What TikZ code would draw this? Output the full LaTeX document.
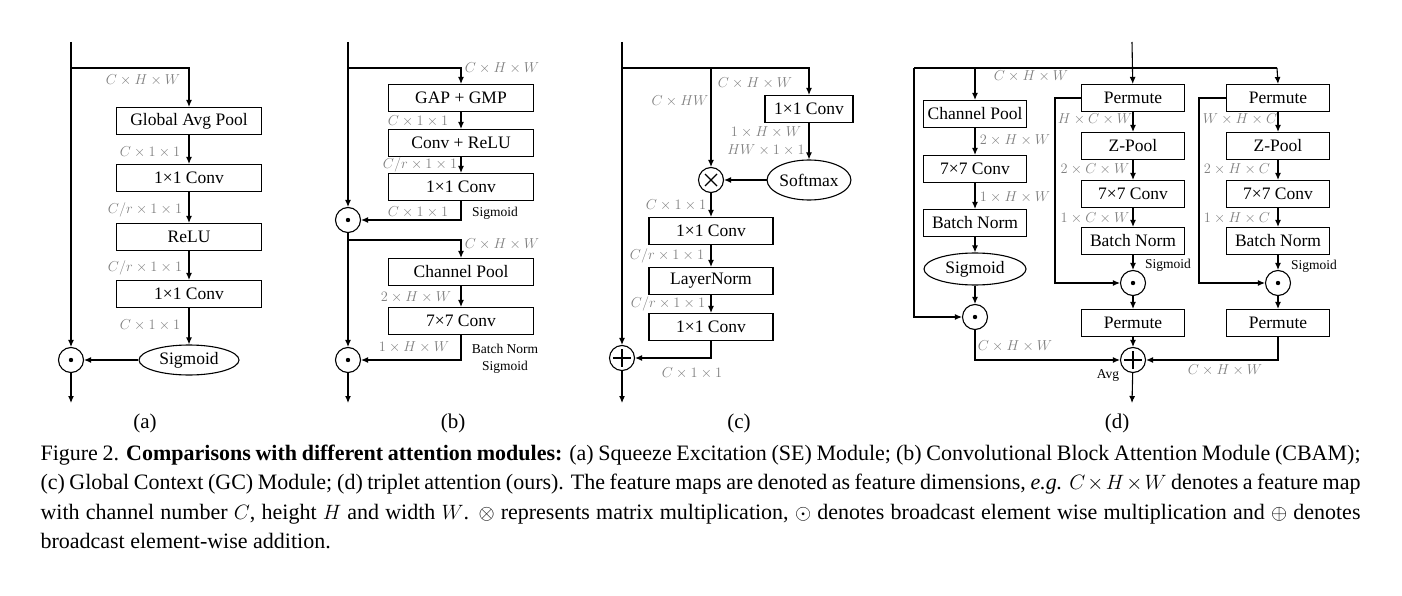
\documentclass[tikz,border=0pt]{standalone}
\usepackage{fontspec}
\setmainfont{Liberation Serif}
\usetikzlibrary{arrows.meta,shapes.geometric}
\begin{document}
\begin{tikzpicture}[x=1pt,y=-1pt,line width=1.1pt,
 arr/.style={-{Latex[length=7pt,width=6pt]}},
 box/.style={draw,minimum width=145pt,minimum height=27pt,inner sep=0pt,font=\fontsize{17.5}{17.5}\selectfont},
 sbox/.style={draw,minimum width=103pt,minimum height=27pt,inner sep=0pt,font=\fontsize{17.5}{17.5}\selectfont},
 ell/.style={draw,ellipse,minimum width=100pt,minimum height=30pt,inner sep=0pt,font=\fontsize{17.5}{17.5}\selectfont},
 lab/.style={text=gray,font=\fontsize{13.5}{13.5}\selectfont,inner sep=0pt},
 blab/.style={font=\fontsize{13.5}{13.5}\selectfont,inner sep=0pt},
 sublab/.style={font=\fontsize{21}{21}\selectfont},
 odot/.style={draw,circle,minimum size=25pt,inner sep=0pt,path picture={\fill (path picture bounding box.center) circle (2.2pt);}},
 otimes/.style={draw,circle,minimum size=25pt,inner sep=0pt,path picture={\draw ([shift={(-6,-6)}]path picture bounding box.center) -- ([shift={(6,6)}]path picture bounding box.center) ([shift={(-6,6)}]path picture bounding box.center) -- ([shift={(6,-6)}]path picture bounding box.center);}},
 oplus/.style={draw,circle,minimum size=25pt,inner sep=0pt,path picture={\draw ([shift={(-9,0)}]path picture bounding box.center) -- ([shift={(9,0)}]path picture bounding box.center) ([shift={(0,-9)}]path picture bounding box.center) -- ([shift={(0,9)}]path picture bounding box.center);}}]
\useasboundingbox (0,0) rectangle (1402,596);
% ---------- (a)
\coordinate (a0) at (71,42); \coordinate (aj) at (71,68); \coordinate (aout) at (71,403);
\node[box] (a1) at (189,121) {Global Avg Pool};
\node[box] (a2) at (189,178) {1×1 Conv};
\node[box] (a3) at (189,237) {ReLU};
\node[box] (a4) at (189,294) {1×1 Conv};
\node[ell] (as) at (189,360) {Sigmoid};
\node[odot] (ao) at (71,360) {};
\draw[arr] (a0) -- (ao);
\draw[arr] (aj) -| (a1.north);
\draw[arr] (a1) -- (a2); \draw[arr] (a2) -- (a3); \draw[arr] (a3) -- (a4); \draw[arr] (a4) -- (as);
\draw[arr] (as) -- (ao); \draw[arr] (ao) -- (aout);
\node[lab] at (143,80) {$C\times H\times W$};
\node[lab] at (150,152) {$C\times 1\times 1$};
\node[lab] at (145,210) {$C/r\times 1\times 1$};
\node[lab] at (145,268) {$C/r\times 1\times 1$};
\node[lab] at (150,325) {$C\times 1\times 1$};
\node[sublab] at (145,423) {(a)};
% ---------- (b)
\coordinate (b0) at (348,42); \coordinate (bj) at (348,68); \coordinate (bout) at (348,403);
\node[box] (b1) at (461,98) {GAP + GMP};
\node[box] (b2) at (461,143) {Conv + ReLU};
\node[box] (b3) at (461,187) {1×1 Conv};
\node[odot] (bo1) at (348,220) {};
\coordinate (bj2) at (348,240);
\node[box] (b4) at (461,272) {Channel Pool};
\node[box] (b5) at (461,321) {7×7 Conv};
\node[odot] (bo2) at (348,360) {};
\draw[arr] (b0) -- (bo1); \draw[arr] (bo1) -- (bo2); \draw[arr] (bo2) -- (bout);
\draw[arr] (bj) -| (b1.north);
\draw[arr] (b1) -- (b2); \draw[arr] (b2) -- (b3);
\draw[arr] (b3.south) |- (bo1);
\draw[arr] (bj2) -| (b4.north);
\draw[arr] (b4) -- (b5);
\draw[arr] (b5.south) |- (bo2);
\node[lab] at (502,68) {$C\times H\times W$};
\node[lab] at (418,121) {$C\times 1\times 1$};
\node[lab] at (420,165) {$C/r\times 1\times 1$};
\node[lab] at (418,212) {$C\times 1\times 1$};
\node[blab] at (495,213) {Sigmoid};
\node[lab] at (502,244) {$C\times H\times W$};
\node[lab] at (416,297) {$2\times H\times W$};
\node[lab] at (414,347) {$1\times H\times W$};
\node[blab] at (505,349) {Batch Norm};
\node[blab] at (505,367) {Sigmoid};
\node[sublab] at (453,423) {(b)};
% ---------- (c)
\coordinate (c0) at (622,42); \coordinate (cj) at (622,68); \coordinate (cm) at (711,68); \coordinate (cout) at (622,403);
\node[sbox,minimum width=88pt] (c1) at (809,109) {1×1 Conv};
\node[ell,minimum width=74pt,minimum height=40pt] (cs) at (809,180) {Softmax};
\node[otimes] (cx) at (711,180) {};
\node[box,minimum width=124pt] (c2) at (711,231) {1×1 Conv};
\node[box,minimum width=124pt] (c3) at (711,281) {LayerNorm};
\node[box,minimum width=124pt] (c4) at (711,327) {1×1 Conv};
\node[oplus] (cp) at (622,358) {};
\draw[arr] (c0) -- (cp); \draw[arr] (cp) -- (cout);
\draw[arr] (cj) -| (c1.north);
\draw[arr] (cm) -- (cx);
\draw[arr] (c1) -- (cs); \draw[arr] (cs) -- (cx);
\draw[arr] (cx) -- (c2); \draw[arr] (c2) -- (c3); \draw[arr] (c3) -- (c4);
\draw[arr] (c4.south) |- (cp);
\node[lab] at (755,83) {$C\times H\times W$};
\node[lab] at (680,101) {$C\times HW$};
\node[lab] at (766,132) {$1\times H\times W$};
\node[lab] at (766,150) {$HW\times 1\times 1$};
\node[lab] at (676,205) {$C\times 1\times 1$};
\node[lab] at (667,256) {$C/r\times 1\times 1$};
\node[lab] at (668,304) {$C/r\times 1\times 1$};
\node[lab] at (692,373) {$C\times 1\times 1$};
\node[sublab] at (739,423) {(c)};
% ---------- (d)
\coordinate (d0) at (1132,42); \coordinate (dl) at (914,68); \coordinate (dcp) at (975,68); \coordinate (dr) at (1277,68); \coordinate (dout) at (1132,403);
\node[sbox] (l1) at (975,114) {Channel Pool};
\node[sbox] (l2) at (975,169) {7×7 Conv};
\node[sbox] (l3) at (975,223) {Batch Norm};
\node[ell,minimum width=102pt,minimum height=32pt] (l4) at (975,269) {Sigmoid};
\node[odot] (lo) at (975,317) {};
\node[sbox] (m1) at (1133,98) {Permute};
\node[sbox] (m2) at (1133,146) {Z-Pool};
\node[sbox] (m3) at (1133,194) {7×7 Conv};
\node[sbox] (m4) at (1133,241) {Batch Norm};
\node[odot] (mo) at (1133,283) {};
\node[sbox] (m5) at (1133,323) {Permute};
\coordinate (mc1) at (1055,98); \coordinate (mc2) at (1055,283);
\node[sbox] (r1) at (1278,98) {Permute};
\node[sbox] (r2) at (1278,146) {Z-Pool};
\node[sbox] (r3) at (1278,194) {7×7 Conv};
\node[sbox] (r4) at (1278,241) {Batch Norm};
\node[odot] (ro) at (1278,283) {};
\node[sbox] (r5) at (1278,323) {Permute};
\coordinate (rc1) at (1199,98); \coordinate (rc2) at (1199,283);
\node[oplus] (dp) at (1133,360) {};
\draw (dl) -- (dr);
\draw[arr] (d0) -- (m1);
\draw[arr] (dcp) -- (l1);
\draw[arr] (dr) -- (r1.north);
\draw[arr] (dl) |- (lo);
\draw[arr] (l1) -- (l2); \draw[arr] (l2) -- (l3); \draw[arr] (l3) -- (l4); \draw[arr] (l4) -- (lo);
\draw[arr] (lo) |- (dp);
\draw[arr] (m1) -- (m2); \draw[arr] (m2) -- (m3); \draw[arr] (m3) -- (m4); \draw[arr] (m4) -- (mo); \draw[arr] (mo) -- (m5); \draw[arr] (m5) -- (dp);
\draw[arr] (m1.west) -- (mc1) -- (mc2) -- (mo);
\draw[arr] (r1) -- (r2); \draw[arr] (r2) -- (r3); \draw[arr] (r3) -- (r4); \draw[arr] (r4) -- (ro); \draw[arr] (ro) -- (r5);
\draw[arr] (r1.west) -- (rc1) -- (rc2) -- (ro);
\draw[arr] (r5.south) |- (dp);
\draw[arr] (dp) -- (dout);
\node[lab] at (1031,76) {$C\times H\times W$};
\node[lab] at (1015,140) {$2\times H\times W$};
\node[lab] at (1015,197) {$1\times H\times W$};
\node[lab] at (1015,346) {$C\times H\times W$};
\node[lab] at (1095,119) {$H\times C\times W$};
\node[lab] at (1095,169) {$2\times C\times W$};
\node[lab] at (1095,218) {$1\times C\times W$};
\node[blab] at (1168,265) {Sigmoid};
\node[blab] at (1108,375) {Avg};
\node[lab] at (1240,119) {$W\times H\times C$};
\node[lab] at (1237,169) {$2\times H\times C$};
\node[lab] at (1237,218) {$1\times H\times C$};
\node[blab] at (1314,266) {Sigmoid};
\node[lab] at (1225,370) {$C\times H\times W$};
\node[sublab] at (1117,423) {(d)};
% ---------- caption
\node[anchor=north west,inner sep=0pt,text width=1320pt,align=justify,font=\fontsize{22}{29.5}\selectfont] (capt) at (40,444) {Figure 2. \textbf{Comparisons with different attention modules:} (a) Squeeze Excitation (SE) Module; (b) Convolutional Block Attention Module (CBAM); (c) Global Context (GC) Module; (d) triplet attention (ours). The feature maps are denoted as feature dimensions, \textit{e.g.} $C\times H\times W$ denotes a feature map with channel number $C$, height $H$ and width $W$. $\otimes$ represents matrix multiplication, $\odot$ denotes broadcast element wise multiplication and $\oplus$ denotes broadcast element-wise addition.};
\end{tikzpicture}
\end{document}
